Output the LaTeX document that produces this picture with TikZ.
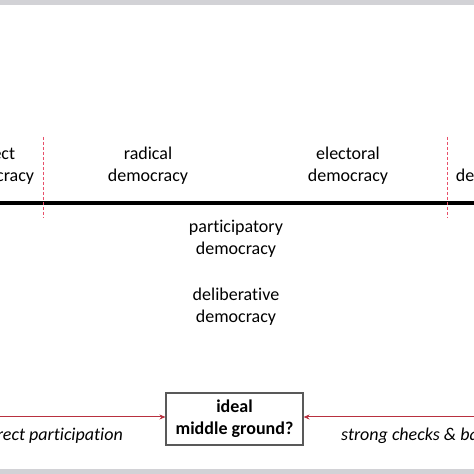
\documentclass[tikz,border=0pt]{standalone}
\usepackage{fontspec}
\setmainfont[Ligatures=NoCommon]{Carlito}
\usetikzlibrary{arrows.meta}
\definecolor{band}{HTML}{D2D2D6}
\definecolor{arrred}{HTML}{B8303F}
\definecolor{dashred}{HTML}{E8506A}
\begin{document}
\begin{tikzpicture}[x=1pt,y=1pt,
  lbl/.style={font=\fontsize{18}{22}\selectfont, align=center, inner sep=0pt},
  ital/.style={font=\fontsize{18}{22}\selectfont\itshape, inner sep=0pt},
  mid/.style={draw=black!65, line width=1.1pt, font=\fontsize{18}{22}\selectfont\bfseries, align=center, minimum width=137pt, minimum height=52pt, inner sep=0pt},
  sep/.style={dashred, dash pattern=on 3pt off 2pt, line width=0.9pt},
  rarr/.style={arrred, line width=1pt, -{Stealth[length=6pt,width=5pt]}}]
\clip (0,0) rectangle (474,474);
\fill[white] (0,0) rectangle (474,474);
\fill[band] (0,469) rectangle (474,474);
\fill[band] (0,0) rectangle (474,5);
% axis
\coordinate (aL) at (0,271);
\coordinate (aR) at (474,271);
\draw[line width=3.8pt] (aL) -- (aR);
% separators
\coordinate (s1t) at (43,337); \coordinate (s1b) at (43,256);
\coordinate (s2t) at (447,337); \coordinate (s2b) at (447,256);
\draw[sep] (s1t) -- (s1b);
\draw[sep] (s2t) -- (s2b);
% labels
\node[lbl] (direct) at (-6,308) {direct\\democracy};
\node[lbl] (radical) at (148,308) {radical\\democracy};
\node[lbl] (electoral) at (348,308) {electoral\\democracy};
\node[lbl] (liberal) at (496,308) {liberal\\democracy};
\node[lbl] (particip) at (236,235) {participatory\\democracy};
\node[lbl] (delib) at (236,167) {deliberative\\democracy};
% box
\node[mid] (ideal) at (234.5,55) {ideal\\middle ground?};
\coordinate (fl) at (-2,57);
\coordinate (fr) at (476,57);
\draw[rarr] (fl) -- (ideal.west |- fl);
\draw[rarr] (fr) -- (ideal.east |- fr);
\node[ital, anchor=east] (dp) at (123,38) {direct participation};
\node[ital, anchor=west] (cb) at (341,38) {strong checks \& balances};
\end{tikzpicture}
\end{document}
